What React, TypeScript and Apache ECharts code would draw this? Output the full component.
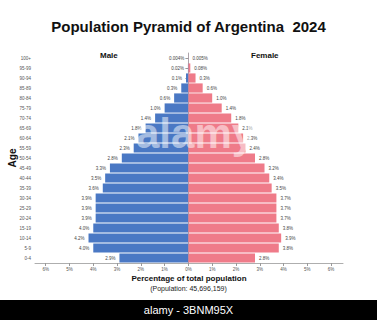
import React, { useEffect, useRef } from "react";
import * as echarts from "echarts";

const ageGroups = ["0-4","5-9","10-14","15-19","20-24","25-29","30-34","35-39","40-44","45-49","50-54","55-59","60-64","65-69","70-74","75-79","80-84","85-89","90-94","95-99","100+"];
const maleValues = [2.9,4.0,4.2,4.0,3.9,3.9,3.9,3.6,3.5,3.3,2.8,2.3,2.1,1.8,1.4,1.0,0.6,0.3,0.1,0.02,0.004];
const femaleValues = [2.8,3.8,3.9,3.8,3.7,3.7,3.7,3.5,3.4,3.2,2.8,2.4,2.3,2.1,1.8,1.4,1.0,0.6,0.3,0.08,0.005];
const xTicks = [-6,-5,-4,-3,-2,-1,0,1,2,3,4,5,6];

const fmt = (v: number) => {
  const a = Math.abs(v);
  if (a < 0.01) return a.toFixed(3) + "%";
  if (a < 0.1) return a.toFixed(2) + "%";
  return a.toFixed(1) + "%";
};

export default function App() {
  const ref = useRef<HTMLDivElement>(null);
  useEffect(() => {
    if (!ref.current) return;
    const chart = echarts.init(ref.current, null, { renderer: "svg" });
    const font = "Liberation Sans, Arial, sans-serif";
    chart.setOption({
      animation: false,
      backgroundColor: "#ffffff",
      textStyle: { fontFamily: font },
      title: {
        text: "Population Pyramid of Argentina  2024",
        left: "center",
        top: 14,
        textStyle: { fontSize: 15, fontWeight: "bold", color: "#111", fontFamily: font },
      },
      grid: { left: 35, right: 34, top: 53, bottom: 57, containLabel: false, outerBoundsMode: "none" },
      xAxis: {
        type: "value",
        min: -6.45,
        max: 6.5,
        name: "Percentage of total population",
        nameLocation: "middle",
        nameGap: 11,
        nameMoveOverlap: false,
        nameTextStyle: { fontSize: 8, fontWeight: "bold", color: "#111", verticalAlign: "top" },
        axisLine: { show: true, lineStyle: { color: "#999", width: 0.8 } },
        axisTick: { show: true, customValues: xTicks, length: 3, lineStyle: { color: "#999" } },
        axisLabel: {
          customValues: xTicks,
          fontSize: 4.5,
          color: "#555",
          margin: 4,
          formatter: (v: number) => Math.abs(v) + "%",
        },
        splitLine: { show: false },
      },
      yAxis: {
        type: "category",
        data: ageGroups,
        name: "Age",
        nameLocation: "middle",
        nameRotate: 90,
        nameGap: 18,
        nameMoveOverlap: false,
        nameTextStyle: { fontSize: 10, fontWeight: "bold", color: "#111" },
        axisLine: { show: true, lineStyle: { color: "#999", width: 0.8 } },
        axisTick: { show: true, alignWithLabel: true, length: 3, lineStyle: { color: "#999" } },
        axisLabel: { fontSize: 4.5, color: "#555", margin: 4 },
      },
      series: [
        {
          name: "Male",
          type: "bar",
          data: maleValues.map((v) => -v),
          barGap: "-100%",
          barCategoryGap: "8%",
          itemStyle: { color: "#4a78c4" },
          label: {
            show: true,
            position: "left",
            distance: 4,
            fontSize: 4.5,
            color: "#444",
            formatter: (p: any) => fmt(p.value),
          },
        },
        {
          name: "Female",
          type: "bar",
          data: femaleValues,
          barCategoryGap: "8%",
          itemStyle: { color: "#ef7b89" },
          label: {
            show: true,
            position: "right",
            distance: 4,
            fontSize: 4.5,
            color: "#444",
            formatter: (p: any) => fmt(p.value),
          },
        },
      ],
      graphic: [
        { type: "text", left: 100, top: 51, style: { text: "Male", fill: "#111", font: "bold 8px " + font } },
        { type: "text", left: 251, top: 51, style: { text: "Female", fill: "#111", font: "bold 8px " + font } },
        { type: "text", left: "center", top: 285, style: { text: "(Population: 45,696,159)", fill: "#222", font: "7px " + font } },
        { type: "text", left: 136, top: 112, z: 100, style: { text: "alamy", fill: "rgba(255,255,255,0.5)", font: "bold 42px " + font } },
        { type: "rect", left: 0, top: 300, shape: { width: 377, height: 20 }, style: { fill: "#000" } },
        { type: "text", left: "center", top: 304, style: { text: "alamy - 3BNM95X", fill: "#fff", font: "11px " + font } },
      ],
    });
    return () => chart.dispose();
  }, []);
  return <div ref={ref} style={{ width: 377, height: 320, position: "absolute", left: 0, top: 0 }} />;
}
